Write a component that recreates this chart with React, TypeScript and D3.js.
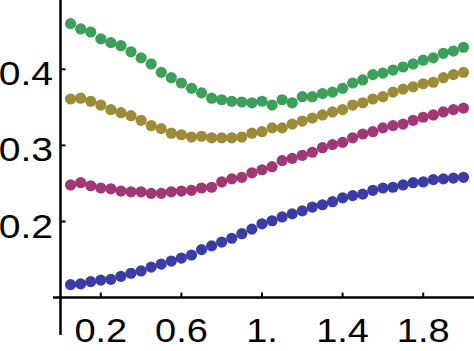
import React from "react";
import * as d3 from "d3";

const xs = [0.05, 0.1, 0.15, 0.2, 0.25, 0.3, 0.35, 0.4, 0.45, 0.5, 0.55, 0.6, 0.65, 0.7, 0.75, 0.8, 0.85, 0.9, 0.95, 1.0,
  1.05, 1.1, 1.15, 1.2, 1.25, 1.3, 1.35, 1.4, 1.45, 1.5, 1.55, 1.6, 1.65, 1.7, 1.75, 1.8, 1.85, 1.9, 1.95, 2.0];

const blue = [0.117, 0.118, 0.121, 0.123, 0.124, 0.128, 0.132, 0.135, 0.140, 0.144, 0.148, 0.152, 0.156, 0.163, 0.168, 0.173, 0.178, 0.184, 0.190, 0.197,
  0.201, 0.206, 0.210, 0.214, 0.219, 0.222, 0.226, 0.231, 0.234, 0.236, 0.241, 0.244, 0.245, 0.248, 0.251, 0.252, 0.255, 0.256, 0.257, 0.258];
const magenta = [0.248, 0.251, 0.247, 0.244, 0.243, 0.240, 0.239, 0.239, 0.237, 0.237, 0.239, 0.240, 0.241, 0.244, 0.245, 0.252, 0.256, 0.258, 0.264, 0.268,
  0.272, 0.280, 0.283, 0.287, 0.291, 0.297, 0.301, 0.304, 0.310, 0.315, 0.318, 0.323, 0.326, 0.328, 0.333, 0.337, 0.340, 0.344, 0.347, 0.349];
const olive = [0.361, 0.362, 0.358, 0.353, 0.347, 0.343, 0.339, 0.333, 0.326, 0.322, 0.316, 0.314, 0.311, 0.312, 0.310, 0.310, 0.310, 0.311, 0.316, 0.318,
  0.323, 0.323, 0.328, 0.332, 0.336, 0.340, 0.344, 0.347, 0.353, 0.356, 0.361, 0.364, 0.370, 0.374, 0.377, 0.381, 0.383, 0.389, 0.393, 0.396];
const green = [0.460, 0.453, 0.449, 0.440, 0.435, 0.431, 0.423, 0.415, 0.407, 0.396, 0.389, 0.382, 0.375, 0.369, 0.362, 0.360, 0.358, 0.357, 0.356, 0.358,
  0.353, 0.360, 0.356, 0.364, 0.364, 0.368, 0.370, 0.375, 0.382, 0.386, 0.393, 0.395, 0.399, 0.403, 0.407, 0.412, 0.415, 0.421, 0.424, 0.429];

const seriesList = [
  { name: "blue", values: blue, color: "#3c3ca6" },
  { name: "magenta", values: magenta, color: "#a03873" },
  { name: "olive", values: olive, color: "#9c8c37" },
  { name: "green", values: green, color: "#3c9f5a" },
];

const xTicks = [0.2, 0.6, 1.0, 1.4, 1.8];
const xTickLabels = ["0.2", "0.6", "1.", "1.4", "1.8"];
const yTicks = [0.2, 0.3, 0.4];
const yTickLabels = ["0.2", "0.3", "0.4"];

const W = 474;
const H = 351;

export default function App() {
  const x = d3.scaleLinear().domain([0, 2]).range([60.5, 463.5]);
  const y = d3.scaleLinear().domain([0.1, 0.4]).range([297.6, 69.3]);
  const font = "'Liberation Sans', Arial, Helvetica, sans-serif";
  return (
    <svg width={W} height={H} style={{ position: "fixed", left: 0, top: 0, background: "#fff" }}>
      <line x1={x(-0.037)} x2={W} y1={y(0.1)} y2={y(0.1)} stroke="#000" strokeWidth={2.5} />
      <line x1={x(0)} x2={x(0)} y1={y(0.491)} y2={y(0.051)} stroke="#000" strokeWidth={2.5} />
      {xTicks.map((t, i) => (
        <g key={"xt" + i}>
          <line x1={x(t)} x2={x(t)} y1={y(0.1)} y2={y(0.1) - 5} stroke="#000" strokeWidth={2} />
          <text
            transform={`translate(${x(t)},${y(0.1) + 44}) scale(1.15,1)`}
            textAnchor="middle"
            fontFamily={font}
            fontSize={33}
            fill="#000"
          >
            {xTickLabels[i]}
          </text>
        </g>
      ))}
      {yTicks.map((t, i) => (
        <g key={"yt" + i}>
          <line x1={x(0)} x2={x(0) + 5} y1={y(t)} y2={y(t)} stroke="#000" strokeWidth={2} />
          <text
            transform={`translate(53,${y(t) + 16}) scale(1.15,1)`}
            textAnchor="end"
            fontFamily={font}
            fontSize={34}
            fill="#000"
          >
            {yTickLabels[i]}
          </text>
        </g>
      ))}
      {seriesList.map((s) => (
        <g key={s.name} fill={s.color}>
          {s.values.map((v, i) => (
            <circle key={i} cx={x(xs[i])} cy={y(v)} r={5.6} />
          ))}
        </g>
      ))}
    </svg>
  );
}
